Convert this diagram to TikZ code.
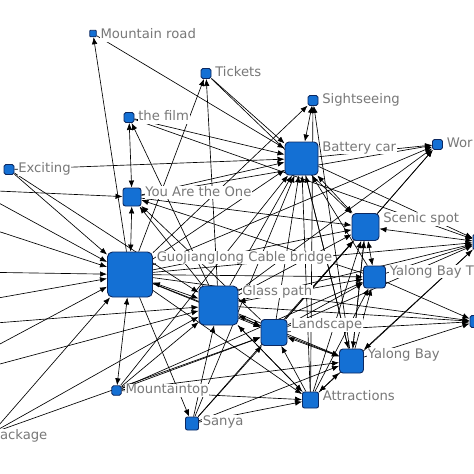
\documentclass[tikz,border=0pt]{standalone}
\usepackage{fontspec}
\setmainfont{DejaVu Sans}
\usetikzlibrary{arrows.meta}
\pgfdeclarelayer{edgelayer}
\pgfdeclarelayer{bglayer}
\pgfsetlayers{bglayer,edgelayer,main}
\definecolor{nodeblue}{RGB}{20,112,212}
\definecolor{nodeedge}{RGB}{12,40,96}
\definecolor{labgray}{RGB}{120,120,120}
\tikzset{
 nd/.style={draw=nodeedge, fill=nodeblue, line width=0.9pt, rounded corners=1.8pt, inner sep=0pt, minimum size=#1},
 lab/.style={anchor=west, fill=white, inner sep=0.6pt, text=labgray, font=\fontsize{13.2}{15}\selectfont, text height=9.6pt, text depth=2.6pt},
 edg/.style={-{Latex[length=7pt,width=5.5pt]}, line width=0.65pt, black},
 bidir/.style={{Latex[length=7pt,width=5.5pt]}-{Latex[length=7pt,width=5.5pt]}, line width=0.65pt, black},
}
\begin{document}
\begin{tikzpicture}[x=1pt,y=-1pt]
\useasboundingbox (0,0) rectangle (474,474);
\begin{pgfonlayer}{bglayer}
\fill[white] (0,0) rectangle (474,474);
\end{pgfonlayer}
% nodes
\node[nd=6.5pt,rounded corners=0.8pt]  (mr) at (93,33.5) {};
\node[nd=10pt] (tk) at (206,73.5) {};
\node[nd=10pt] (ss) at (313,100.5) {};
\node[nd=10pt] (fm) at (129,117.5) {};
\node[nd=33pt,rounded corners=4pt] (bc) at (301.5,158.5) {};
\node[nd=10pt] (wo) at (437.5,144.5) {};
\node[nd=10pt] (ex) at (9,169.5) {};
\node[nd=18pt,rounded corners=2.5pt] (yo) at (132,197) {};
\node[nd=27pt,rounded corners=4pt] (sc) at (365.5,227) {};
\node[nd=16pt] (rt) at (481,242) {};
\node[nd=45pt,rounded corners=5pt] (gc) at (130,274.5) {};
\node[nd=22pt,rounded corners=3pt] (yt) at (374.5,277) {};
\node[nd=39pt,rounded corners=5pt] (gp) at (218.5,305.5) {};
\node[nd=26pt,rounded corners=3.5pt] (ls) at (274,332.5) {};
\node[nd=12pt] (rb) at (476,321.5) {};
\node[nd=24pt,rounded corners=3.5pt] (yb) at (351.5,361) {};
\node[nd=16pt,rounded corners=2pt] (at) at (310.5,400) {};
\node[nd=9.5pt] (mt) at (116.5,390.5) {};
\node[nd=13pt,rounded corners=2pt] (sy) at (192,423.5) {};
\coordinate (pk) at (-8,433);
\coordinate (l1) at (-25,190);
\coordinate (l2) at (-30,222);
\coordinate (l3) at (-30,272);
\coordinate (l4) at (-30,303);
\coordinate (l5) at (-30,325);
\coordinate (l6) at (-30,360);
\coordinate (l7) at (-30,372);
% labels
\node[lab] at ([xshift=3pt,yshift=-5pt]mr.north east) {Mountain road};
\node[lab] at ([xshift=3pt,yshift=-5pt]tk.north east) {Tickets};
\node[lab] at ([xshift=3pt,yshift=-5pt]ss.north east) {Sightseeing};
\node[lab] at ([xshift=3pt,yshift=-5pt]fm.north east) {the film};
\node[lab] at ([xshift=3pt,yshift=-6pt]bc.north east) {Battery car};
\node[lab] at ([xshift=3pt,yshift=-5pt]wo.north east) {Wor};
\node[lab] at ([xshift=3pt,yshift=-5pt]ex.north east) {Exciting};
\node[lab] at ([xshift=3pt,yshift=-5pt]yo.north east) {You Are the One};
\node[lab] at ([xshift=3pt,yshift=-6pt]sc.north east) {Scenic spot};
\node[lab] at ([xshift=3pt,yshift=-6pt]gc.north east) {Guojianglong Cable bridge};
\node[lab] at ([xshift=3pt,yshift=-6pt]yt.north east) {Yalong Bay T};
\node[lab] at ([xshift=3pt,yshift=-6pt]gp.north east) {Glass path};
\node[lab] at ([xshift=3pt,yshift=-6pt]ls.north east) {Landscape};
\node[lab] at ([xshift=3pt,yshift=-6pt]yb.north east) {Yalong Bay};
\node[lab] at ([xshift=3pt,yshift=-5pt]at.north east) {Attractions};
\node[lab] at ([xshift=3pt,yshift=-5pt]mt.north east) {Mountaintop};
\node[lab] at ([xshift=3pt,yshift=-5pt]sy.north east) {Sanya};
\node[lab,anchor=west] (pklab) at (-0.8,436) {ackage};
% edges
\begin{pgfonlayer}{edgelayer}
\draw[edg] (gc) -- (mr);
\draw[edg] (mr) -- (bc);
\draw[edg] (gc) -- (tk);
\draw[edg] (gp) -- (tk);
\draw[edg] (tk) -- (bc);
\draw[edg] (tk) -- (sc);
\draw[bidir] (yo) -- (fm);
\draw[edg] (gp) -- (fm);
\draw[edg] (fm) -- (bc);
\draw[edg] (fm) -- (rt);
\draw[bidir] (bc) -- (ss);
\draw[edg] (gc) -- (ss);
\draw[edg] (yb) -- (ss);
\draw[edg] (at) -- (ss);
\draw[edg] (ex) -- (bc);
\draw[edg] (ex) -- (gc);
\draw[edg] (ex) -- (gp);
\draw[edg] (l1) -- (yo);
\draw[edg] (l1) -- (gc);
\draw[bidir] (yo) -- (gc);
\draw[edg] (yo) -- (bc);
\draw[edg] (yo) -- (sc);
\draw[edg] (yo) -- (wo);
\draw[edg] (gp) -- (yo);
\draw[edg] (ls) -- (yo);
\draw[edg] (yt) -- (yo);
\draw[edg] (gc) -- (bc);
\draw[edg] (gp) -- (bc);
\draw[edg] (ls) -- (bc);
\draw[edg] (yb) -- (bc);
\draw[edg] (at) -- (bc);
\draw[edg] (sy) -- (bc);
\draw[edg] (mt) -- (bc);
\draw[bidir] (sc) -- (bc);
\draw[edg] (yt) -- (bc);
\draw[edg] (bc) -- (wo);
\draw[edg] (gc) -- (wo);
\draw[edg] (gp) -- (wo);
\draw[edg] (sc) -- (wo);
\draw[edg] (ls) -- (wo);
\draw[edg] (gc) -- (sc);
\draw[edg] (gp) -- (sc);
\draw[edg] (ls) -- (sc);
\draw[edg] (yb) -- (sc);
\draw[edg] (at) -- (sc);
\draw[bidir] (rt) -- (sc);
\draw[edg] (sy) -- (sc);
\draw[bidir] (sc) -- (yt);
\draw[edg] (yt) -- (rt);
\draw[edg] (gp) -- (rt);
\draw[edg] (ls) -- (rt);
\draw[edg] (gc) -- (rt);
\draw[edg] (at) -- (rt);
\draw[edg] (bc) -- (rt);
\draw[edg] (gp) -- (rb);
\draw[edg] (ls) -- (rb);
\draw[edg] (yt) -- (rb);
\draw[edg] (yb) -- (rb);
\draw[edg] (gc) -- (rb);
\draw[edg] (rt) -- (yb);
\draw[edg] (gc) -- (yt);
\draw[bidir] (gp) -- (yt);
\draw[edg] (ls) -- (yt);
\draw[edg] (yb) -- (yt);
\draw[edg] (at) -- (yt);
\draw[edg] (mt) -- (yt);
\draw[bidir] (gc) -- (gp);
\draw[edg] (gc) -- (ls);
\draw[edg] (gc) -- (yb);
\draw[edg] (gc) -- (at);
\draw[bidir] (gc) -- (mt);
\draw[edg] (gc) -- (sy);
\draw[bidir] (gp) -- (ls);
\draw[edg] (gp) -- (yb);
\draw[edg] (gp) -- (at);
\draw[edg] (sy) -- (gp);
\draw[edg] (mt) -- (gp);
\draw[edg] (at) -- (gp);
\draw[bidir] (ls) -- (yb);
\draw[edg] (at) -- (ls);
\draw[edg] (sy) -- (ls);
\draw[edg] (mt) -- (ls);
\draw[edg] (bc) -- (yb);
\draw[edg] (sc) -- (yb);
\draw[bidir] (at) -- (yb);
\draw[edg] (mt) -- (yb);
\draw[edg] (sy) -- (yb);
\draw[edg] (sy) -- (at);
\draw[edg] (mt) -- (at);
\draw[edg] (l2) -- (gc);
\draw[edg] (l3) -- (gc);
\draw[edg] (l4) -- (gc);
\draw[edg] (l5) -- (gp);
\draw[edg] (l6) -- (gc);
\draw[edg] (l7) -- (gp);
\draw[edg] (pk) -- (gc);
\draw[edg] (pk) -- (gp);
\draw[edg] (pk) -- (ls);
\end{pgfonlayer}
\end{tikzpicture}
\end{document}
